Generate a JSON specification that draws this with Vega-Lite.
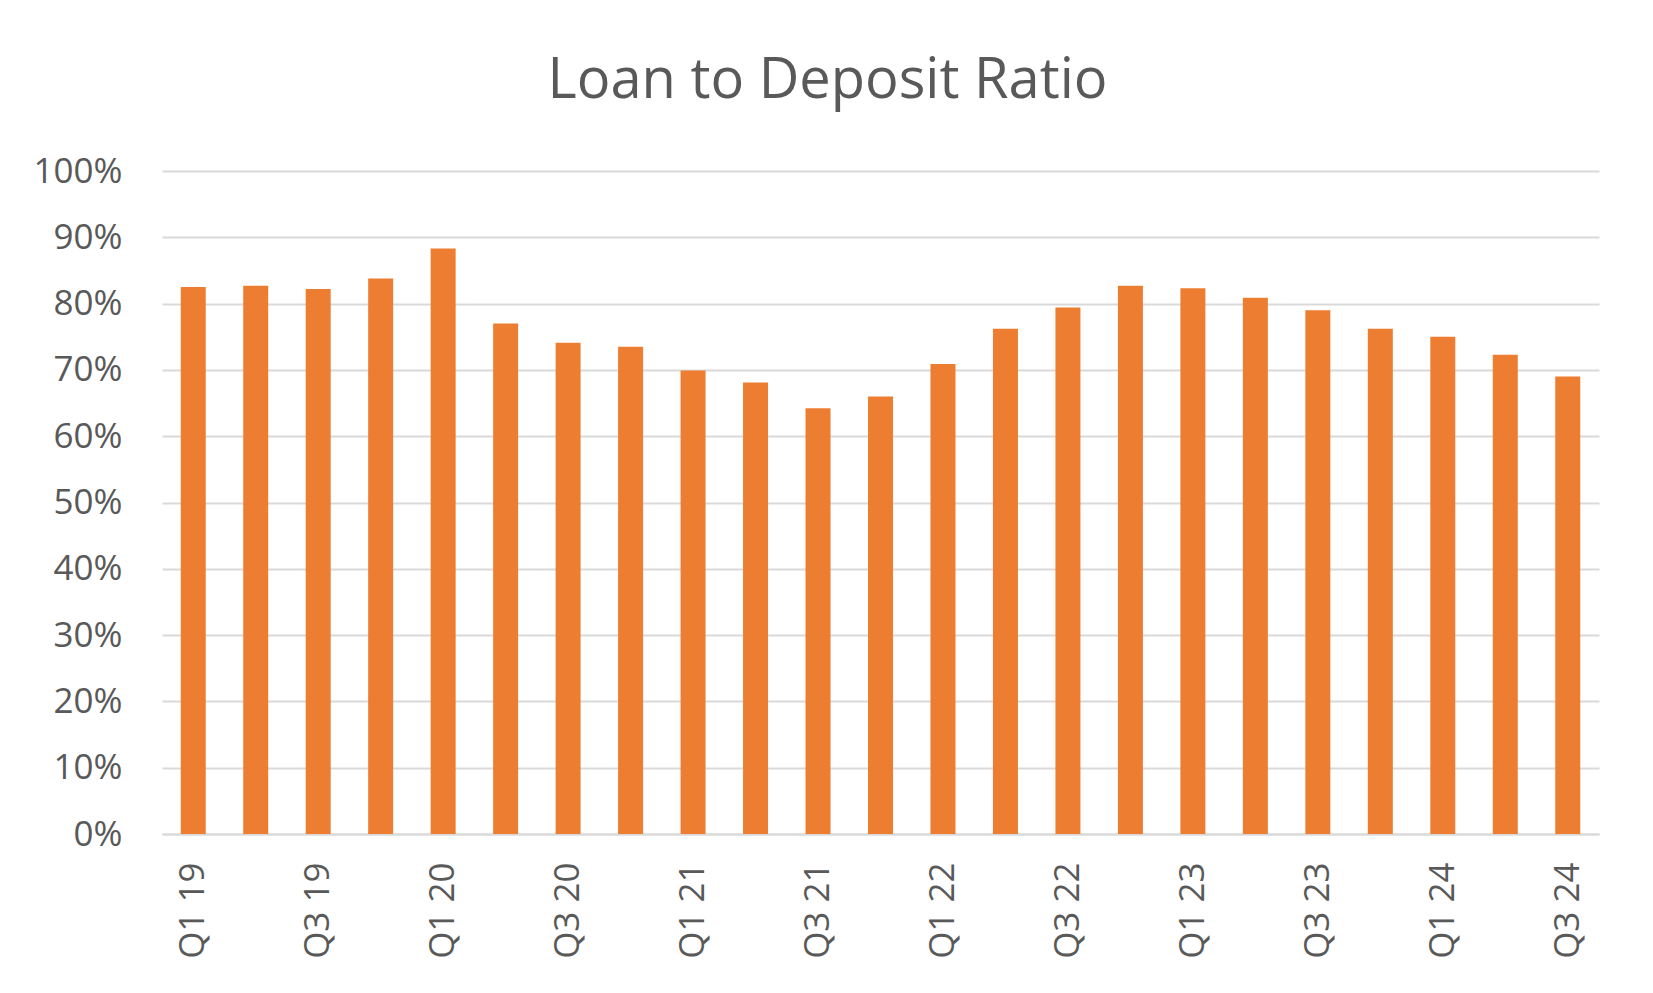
{
  "$schema": "https://vega.github.io/schema/vega-lite/v6.json",
  "width": 1437,
  "height": 663,
  "autosize": {"type": "none"},
  "padding": {"left": 162, "top": 171, "right": 54, "bottom": 159},
  "background": "white",
  "title": {
    "text": "Loan to Deposit Ratio",
    "font": "Open Sans",
    "fontSize": 56,
    "fontWeight": "normal",
    "color": "#595959",
    "anchor": "middle",
    "frame": "group",
    "dx": -53,
    "dy": 52,
    "baseline": "alphabetic",
    "offset": 52
  },
  "data": {
    "values": [
      {"quarter": "Q1 19", "ratio": 0.825},
      {"quarter": "Q2 19", "ratio": 0.827},
      {"quarter": "Q3 19", "ratio": 0.822},
      {"quarter": "Q4 19", "ratio": 0.838},
      {"quarter": "Q1 20", "ratio": 0.883},
      {"quarter": "Q2 20", "ratio": 0.770},
      {"quarter": "Q3 20", "ratio": 0.741},
      {"quarter": "Q4 20", "ratio": 0.735},
      {"quarter": "Q1 21", "ratio": 0.699},
      {"quarter": "Q2 21", "ratio": 0.681},
      {"quarter": "Q3 21", "ratio": 0.642},
      {"quarter": "Q4 21", "ratio": 0.660},
      {"quarter": "Q1 22", "ratio": 0.709},
      {"quarter": "Q2 22", "ratio": 0.762},
      {"quarter": "Q3 22", "ratio": 0.794},
      {"quarter": "Q4 22", "ratio": 0.827},
      {"quarter": "Q1 23", "ratio": 0.823},
      {"quarter": "Q2 23", "ratio": 0.809},
      {"quarter": "Q3 23", "ratio": 0.790},
      {"quarter": "Q4 23", "ratio": 0.762},
      {"quarter": "Q1 24", "ratio": 0.750},
      {"quarter": "Q2 24", "ratio": 0.723},
      {"quarter": "Q3 24", "ratio": 0.690}
    ]
  },
  "mark": {"type": "bar", "color": "#ED7D31"},
  "encoding": {
    "x": {
      "field": "quarter",
      "type": "nominal",
      "sort": null,
      "scale": {"paddingInner": 0.6, "paddingOuter": 0.3},
      "axis": {
        "title": null,
        "values": ["Q1 19", "Q3 19", "Q1 20", "Q3 20", "Q1 21", "Q3 21", "Q1 22", "Q3 22", "Q1 23", "Q3 23", "Q1 24", "Q3 24"],
        "labelAngle": -90,
        "labelAlign": "right",
        "labelBaseline": "middle",
        "labelPadding": 28,
        "ticks": false,
        "labelFont": "Open Sans",
        "labelFontSize": 35,
        "labelColor": "#595959",
        "domainColor": "#d9d9d9",
        "domainWidth": 2,
        "grid": false
      }
    },
    "y": {
      "field": "ratio",
      "type": "quantitative",
      "scale": {"domain": [0, 1]},
      "axis": {
        "title": null,
        "values": [0, 0.1, 0.2, 0.3, 0.4, 0.5, 0.6, 0.7, 0.8, 0.9, 1],
        "format": ".0%",
        "ticks": false,
        "domain": false,
        "labelPadding": 40,
        "labelFont": "Open Sans",
        "labelFontSize": 35,
        "labelColor": "#595959",
        "gridColor": "#d9d9d9",
        "gridWidth": 2
      }
    }
  },
  "config": {
    "view": {"stroke": null}
  }
}
